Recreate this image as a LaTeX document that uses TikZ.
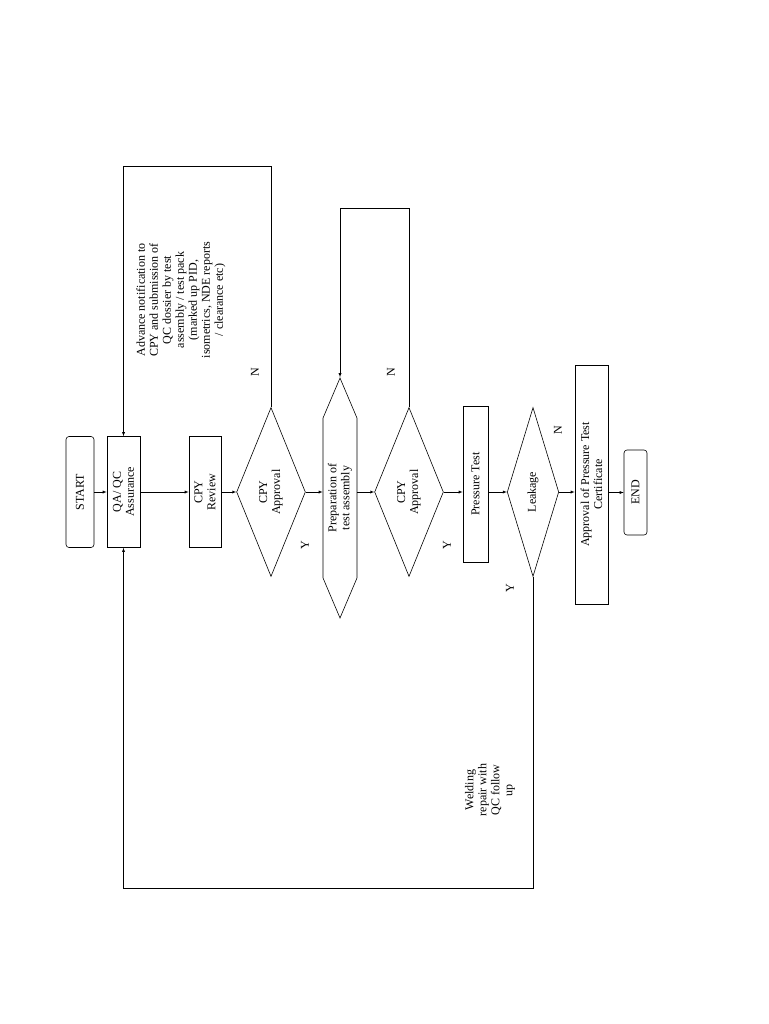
\documentclass[tikz,border=0pt]{standalone}
\usepackage{fontspec}
\setmainfont{Liberation Serif}
\usetikzlibrary{shapes.geometric,shapes.symbols}

\tikzset{
	box/.style={draw, rotate=90, align=center, inner sep=1pt, font=\fontsize{12}{13}\selectfont},
	term/.style={box, rounded corners=3pt},
	decision/.style={box, diamond, inner sep=0pt},
	prep/.style={box, signal, signal to=west and east, signal pointer angle=46, inner sep=0pt},
	flow/.style={-latex, thin},
	lbl/.style={rotate=90, align=center, font=\fontsize{12}{13}\selectfont}
}

\begin{document}
\begin{tikzpicture}[x=1pt, y=-1pt, line width=0.6pt]
\useasboundingbox (0,0) rectangle (768,1024);

% main chain
\node[term, minimum width=111pt, minimum height=28pt] (start) at (80,492) {START};
\node[box, minimum width=111pt, minimum height=33pt] (qa) at (123.5,492) {QA/ QC\\Assurance};
\node[box, minimum width=111pt, minimum height=32pt] (review) at (205,492) {CPY\\Review};
\node[decision, minimum width=169pt, minimum height=66pt] (appr1) at (271,492) {CPY\\Approval};
\node[prep, minimum width=240pt, minimum height=34pt] (prep) at (340,498) {Preparation of\\test assembly};
\node[decision, minimum width=169pt, minimum height=58pt] (appr2) at (409,492) {CPY\\Approval};
\node[box, minimum width=156pt, minimum height=25pt] (ptest) at (475.5,484) {Pressure Test};
\node[decision, minimum width=169pt, minimum height=48pt] (leak) at (533,492) {Leakage};
\node[box, minimum width=239pt, minimum height=33pt] (cert) at (591.5,484.5) {Approval of Pressure Test\\Certificate};
\node[term, minimum width=85pt, minimum height=23pt] (end) at (635.5,492.5) {END};

\draw[flow] (start) -- (qa);
\draw[flow] (qa) -- (review);
\draw[flow] (review) -- (appr1);
\draw[flow] (appr1.south) -- (appr1.south -| prep.north);
\draw[flow] (prep.south |- appr2.north) -- (appr2.north);
\draw[flow] (appr2.south) -- (appr2.south -| ptest.north);
\draw[flow] (ptest.south |- leak.north) -- (leak.north);
\draw[flow] (leak.south) -- (leak.south -| cert.north);
\draw[flow] (cert.south |- end.north) -- (end.north);

% loops
\coordinate (loopA) at (271,166);
\coordinate (loopB) at (409,208);
\coordinate (loopC) at (533,888);
\draw[flow] (appr1.east) -- (loopA) -- (loopA -| qa) -- (qa.east);
\draw[flow] (appr2.east) -- (loopB) -- (loopB -| prep) -- (prep.east);
\draw[flow] (leak.west) -- (loopC) -- (loopC -| qa) -- (qa.west);

% labels
\node[lbl] (note) at (181,300) {Advance notification to\\CPY and submission of\\QC dossier by test\\assembly / test pack\\(marked up PID,\\isometrics, NDE reports\\/ clearance etc)};
\node[lbl] (n1) at (255,372) {N};
\node[lbl] (y1) at (305,545) {Y};
\node[lbl] (n2) at (391,372) {N};
\node[lbl] (y2) at (447,545) {Y};
\node[lbl] (n3) at (558,430) {N};
\node[lbl] (y3) at (510,588) {Y};
\node[lbl] (weld) at (490,790) {Welding\\repair with\\QC follow\\up};
\end{tikzpicture}
\end{document}
